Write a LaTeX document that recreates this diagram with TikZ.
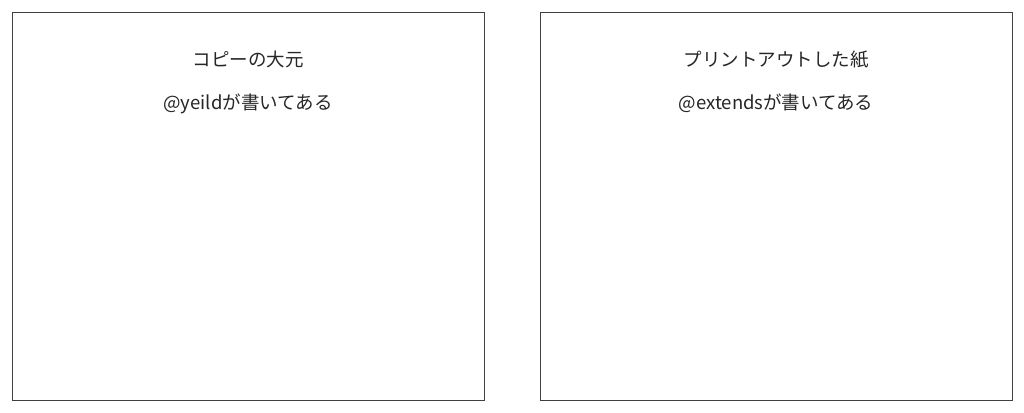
\documentclass[tikz,border=0pt]{standalone}
\usepackage{fontspec}
\setmainfont{Noto Sans CJK JP}
\usepackage{tikz}
\usetikzlibrary{positioning}

\begin{document}
\begin{tikzpicture}[x=1pt,y=1pt,node distance=44pt,
    sheet/.style={draw=black!75,line width=0.9pt,minimum width=472pt,minimum height=388pt,inner sep=0pt},
    memo/.style={text=black!85,font=\fontsize{18.5pt}{22pt}\selectfont,inner sep=0pt}]
    \useasboundingbox (0,0) rectangle (1024,412);

    \node (orig) [sheet] at (248,206) {};
    \node (print) [sheet] at (776,206) {};

    \node (origT) [memo] at ([yshift=-48pt]orig.north) {コピーの大元};
    \node (origN) [memo, below of=origT] {@yeildが書いてある};

    \node (printT) [memo] at ([yshift=-48pt]print.north) {プリントアウトした紙};
    \node (printN) [memo, below of=printT] {@extendsが書いてある};
  \end{tikzpicture}
\end{document}
